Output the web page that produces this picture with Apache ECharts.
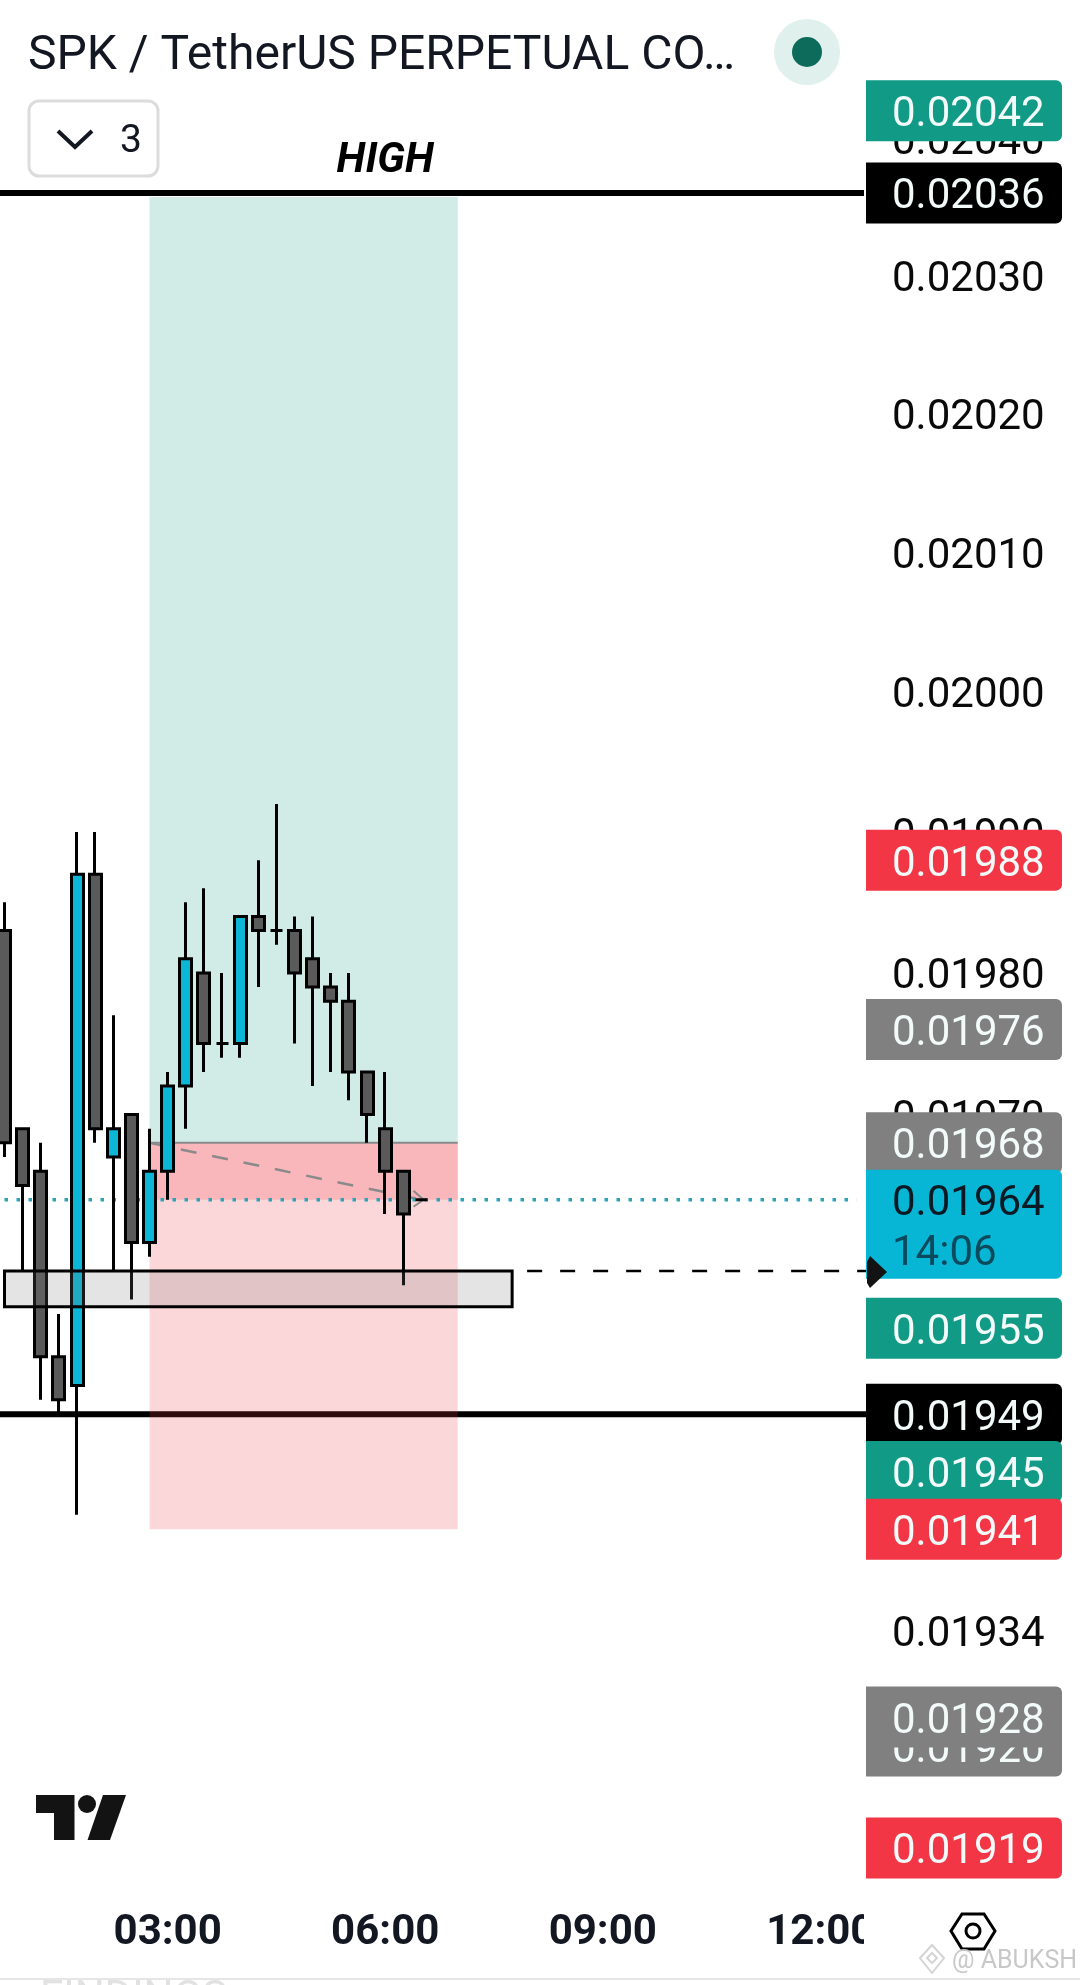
<!DOCTYPE html>
<html><head><meta charset="utf-8">
<style>html,body{margin:0;padding:0;background:#fff}#c{width:1080px;height:1985px}</style>
<script src="https://cdn.jsdelivr.net/npm/echarts@6/dist/echarts.min.js"></script>
</head><body><div id="c"></div>
<script>
// 15-minute slots starting 00:45
const times = ["00:45","01:00","01:15","01:30","01:45","02:00","02:15","02:30","02:45","03:00","03:15","03:30","03:45","04:00","04:15","04:30","04:45","05:00","05:15","05:30","05:45","06:00","06:15","06:30","06:45","07:00","07:15","07:30","07:45","08:00","08:15","08:30","08:45","09:00","09:15","09:30","09:45","10:00","10:15","10:30","10:45","11:00","11:15","11:30","11:45","12:00","12:15","12:30","12:45","13:00","13:15","13:30","13:45","14:00","14:15","14:30","14:45","15:00"];
const timeLabels = ["03:00","06:00","09:00","12:00"];
// [open, close, low, high]
const candles = [
[0.01983,0.01968,0.01967,0.01985],
[0.01969,0.01965,0.01959,0.01969],
[0.01966,0.01953,0.01950,0.01968],
[0.01953,0.01950,0.01949,0.01956],
[0.01951,0.01987,0.01942,0.01990],
[0.01987,0.01969,0.01968,0.01990],
[0.01967,0.01969,0.01959,0.01977],
[0.01970,0.01961,0.01957,0.01970],
[0.01961,0.01966,0.01960,0.01969],
[0.01966,0.01972,0.01964,0.01973],
[0.01972,0.01981,0.01969,0.01985],
[0.01980,0.01975,0.01973,0.01986],
[0.01975,0.01975,0.01974,0.01980],
[0.01975,0.01984,0.01974,0.01984],
[0.01984,0.01983,0.01979,0.01988],
[0.01983,0.01983,0.01982,0.01992],
[0.01983,0.01980,0.01975,0.01984],
[0.01981,0.01979,0.01972,0.01984],
[0.01979,0.01978,0.01973,0.01980],
[0.01978,0.01973,0.01971,0.01980],
[0.01973,0.01970,0.01968,0.01973],
[0.01969,0.01966,0.01963,0.01973],
[0.01966,0.01963,0.01958,0.01966],
[0.01964,0.01964,0.01964,0.01964]
];
const tickPrices = [0.02040,0.02030,0.02020,0.02010,0.02000,0.01990,0.01980,0.01970,0.01934];
const tagPrices = [0.02042,0.02036,0.01988,0.01976,0.01968,0.01955,0.01949,0.01945,0.01941,0.01926,0.01928,0.01919];
const tagTexts  = ["0.02042","0.02036","0.01988","0.01976","0.01968","0.01955","0.01949","0.01945","0.01941","0.01920","0.01928","0.01919"];
const tagColors = ["#119a85","#000000","#f23645","#808080","#808080","#119a85","#000000","#119a85","#f23645","#808080","#808080","#f23645"];
const highLine = 0.02036, lowLine = 0.01949, lastPrice = 0.01964;
const entry = 0.01968, target = 0.02036, stop = 0.01941;
const boxTop = 0.01959, boxBottom = 0.019565;

const UP='#0bb6d6', DOWN='#5a5a5a';
const FONT='Roboto, sans-serif';
const Y_MIN=0.019168, Y_MAX=0.020501;
const ZONE_L=7.87, ZONE_R=25.05, BOX_L=-0.04, BOX_R=28, TAG_LEFT=867, TAG_W=196, TEXT_X=892, DY=5;

function pt(api,i,p){return api.coord([i,p]);}
function rectShape(api,i0,p0,i1,p1){const a=pt(api,i0,p0),b=pt(api,i1,p1);return {x:a[0],y:a[1],width:b[0]-a[0],height:b[1]-a[1]};}

const chart = echarts.init(document.getElementById('c'),null,{renderer:'canvas'});
chart.setOption({
  animation:false,
  backgroundColor:'#fff',
  title:{text:'SPK / TetherUS PERPETUAL CO…',left:23,top:28,textStyle:{fontFamily:FONT,fontSize:48,fontWeight:400,color:'#131722'}},
  grid:{left:4.5,top:0,width:1033.4,height:1880,containLabel:false},
  xAxis:{type:'category',data:times,boundaryGap:false,axisLine:{show:false},axisTick:{show:false},splitLine:{show:false},
    axisLabel:{interval:function(i,v){return timeLabels.indexOf(v)>=0;},hideOverlap:false,margin:32,fontFamily:FONT,fontSize:42,fontWeight:700,color:'#131722'}},
  yAxis:{type:'log',logBase:10,min:Y_MIN,max:Y_MAX,position:'right',axisLine:{show:false},axisTick:{show:false},axisLabel:{show:false},splitLine:{show:false}},
  series:[
   {type:'custom',name:'levels',z:1,silent:true,data:[[0,highLine,864],[0,lowLine,866]],renderItem:function(p,api){
      const c=api.coord([0,api.value(1)]);
      return {type:'line',shape:{x1:0,y1:c[1],x2:api.value(2),y2:c[1]},style:{stroke:'#000',lineWidth:6}};
   }},
   {type:'custom',name:'zones',z:2,silent:true,data:[[0,entry]],renderItem:function(p,api){
      const e=pt(api,22.5,lastPrice);
      const ch=[
        {type:'rect',shape:rectShape(api,ZONE_L,target-0.000003,ZONE_R,entry),style:{fill:'rgba(8,153,129,0.19)'}},
        {type:'rect',shape:rectShape(api,ZONE_L,entry,ZONE_R,stop),style:{fill:'rgba(242,54,69,0.2)'}},
        {type:'rect',shape:rectShape(api,ZONE_L,entry,ZONE_R,lastPrice),style:{fill:'rgba(242,54,69,0.2)'}},
        {type:'line',shape:(function(){const a=pt(api,ZONE_L,entry),b=pt(api,ZONE_R,entry);return {x1:a[0],y1:a[1],x2:b[0],y2:b[1]};})(),style:{stroke:'#8a8a8a',lineWidth:2}},
        {type:'line',shape:(function(){const a=pt(api,ZONE_L,entry),b=pt(api,22.5,lastPrice);return {x1:a[0],y1:a[1],x2:b[0],y2:b[1]};})(),style:{stroke:'#8a8a8a',lineWidth:2.5,lineDash:[16,16]}},
        {type:'polyline',shape:{points:[[e[0]-8,e[1]-9],[e[0]+2,e[1]],[e[0]-8,e[1]+7]]},style:{stroke:'#8a8a8a',lineWidth:2,fill:'none'}},
        {type:'line',shape:(function(){const a=pt(api,-0.25,lastPrice),b=pt(api,47.25,lastPrice);return {x1:a[0],y1:a[1],x2:b[0],y2:b[1]};})(),style:{stroke:'#2fa3b6',lineWidth:3.5,lineDash:[3.5,8.5]}}
      ];
      return {type:'group',children:ch};
   }},
   {type:'candlestick',name:'SPK',z:3,data:candles,barWidth:12.5,clip:false,
    itemStyle:{color:UP,color0:DOWN,borderColor:'#000',borderColor0:'#000',borderColorDoji:'#000',borderWidth:3}},
   {type:'custom',name:'box',z:4,silent:true,data:[[0,boxTop]],renderItem:function(p,api){
      const a=pt(api,BOX_R,boxTop), h=pt(api,21.25,0.020386);
      return {type:'group',children:[
        {type:'rect',shape:rectShape(api,BOX_L,boxTop,BOX_R,boxBottom),style:{fill:'rgba(120,120,120,0.2)',stroke:'#000',lineWidth:3}},
        {type:'line',shape:{x1:a[0]+15,y1:a[1],x2:TAG_LEFT,y2:a[1]},style:{stroke:'#000',lineWidth:2.5,lineDash:[15,18]}},
        {type:'text',style:{text:'HIGH',x:h[0],y:h[1]+4,fill:'#000',font:'italic 700 42px '+FONT,align:'center',verticalAlign:'middle'}}
      ]};
   }},
   {type:'custom',name:'ticks',z:5,silent:true,data:tickPrices.map(v=>[47,v]),renderItem:function(p,api){
      const c=api.coord([47,api.value(1)]);
      return {type:'text',style:{text:api.value(1).toFixed(5),x:TEXT_X,y:c[1]+DY,fill:'#0a0a0a',font:'400 42px '+FONT,align:'left',verticalAlign:'middle'}};
   }},
   {type:'custom',name:'tags',z:6,silent:true,data:tagPrices.map((v,i)=>[47,v,i]),renderItem:function(p,api){
      const i=api.value(2), c=api.coord([47,api.value(1)]);
      return {type:'group',children:[
        {type:'rect',shape:{x:TAG_LEFT-1,y:c[1]-30.5,width:TAG_W,height:61,r:[0,6,6,0]},style:{fill:tagColors[i]}},
        {type:'text',style:{text:tagTexts[i],x:TEXT_X,y:c[1]+DY,fill:'#f2fbfa',font:'400 42px '+FONT,align:'left',verticalAlign:'middle'}}
      ]};
   }},
   {type:'custom',name:'last',z:7,silent:true,data:[[47,lastPrice]],renderItem:function(p,api){
      const c=api.coord([47,lastPrice]);
      return {type:'group',children:[
        {type:'rect',shape:{x:TAG_LEFT-1,y:c[1]-30,width:TAG_W,height:109,r:[0,6,6,0]},style:{fill:'#06b6d4'}},
        {type:'text',style:{text:lastPrice.toFixed(5),x:TEXT_X,y:c[1]+DY,fill:'#0a1a24',font:'400 42px '+FONT,align:'left',verticalAlign:'middle'}},
        {type:'text',style:{text:'14:06',x:TEXT_X,y:c[1]+DY+50,fill:'#0b4a5c',font:'400 42px '+FONT,align:'left',verticalAlign:'middle'}}
      ]};
   }}
  ],
  graphic:[
   {type:'rect',z:100,shape:{x:864,y:1890,width:216,height:85},style:{fill:'#fff'}},
   {type:'circle',z:100,shape:{cx:807,cy:52,r:33},style:{fill:'#dff0ed'}},
   {type:'circle',z:101,shape:{cx:807,cy:52,r:15},style:{fill:'#0d6b5b'}},
   {type:'rect',z:100,shape:{x:29,y:101,width:129,height:75,r:10},style:{fill:'#fff',stroke:'#dcdcdc',lineWidth:3}},
   {type:'polyline',z:101,shape:{points:[[58,131],[75,147],[92,131]]},style:{stroke:'#131722',lineWidth:4,fill:'none'}},
   {type:'text',z:101,style:{text:'3',x:131,y:142,fill:'#131722',font:'400 39px '+FONT,align:'center',verticalAlign:'middle'}},
   {type:'polygon',z:101,shape:{points:[[867,1262],[867,1283],[870,1288],[887,1272],[870,1256]]},style:{fill:'#131313'}},
   {type:'polygon',z:100,shape:{points:[[36,1795],[74.5,1795],[74.5,1840],[54,1840],[54,1813],[36,1813]]},style:{fill:'#131313'}},
   {type:'circle',z:100,shape:{cx:87,cy:1804,r:9},style:{fill:'#131313'}},
   {type:'polygon',z:100,shape:{points:[[103,1795],[126,1795],[110,1840],[87.5,1840]]},style:{fill:'#131313'}},
   {type:'polygon',z:101,shape:{points:[[962,1914],[984,1914],[995,1931],[984,1949],[962,1949],[951,1931]]},style:{fill:'#fff',stroke:'#000',lineWidth:3}},
   {type:'circle',z:102,shape:{cx:973,cy:1931,r:7},style:{fill:'#fff',stroke:'#000',lineWidth:3}},
   {type:'polygon',z:103,shape:{points:[[932,1945],[944,1958],[932,1973],[920,1958]]},style:{fill:'#fff',stroke:'#d4d4d4',lineWidth:2}},
   {type:'polygon',z:104,shape:{points:[[932,1953],[937,1958],[932,1963],[927,1958]]},style:{fill:'none',stroke:'#d4d4d4',lineWidth:2}},
   {type:'text',z:103,style:{text:'@ ABUKSH',x:952,y:1962,fill:'#c8c8c8',font:'400 25px '+FONT,align:'left',verticalAlign:'middle'}},
   {type:'rect',z:100,shape:{x:0,y:1978,width:1080,height:2},style:{fill:'#e6e6e6'}},
   {type:'text',z:101,style:{text:'FINDINGS:',x:40,y:1999,fill:'#e2e2e2',font:'400 42px '+FONT,align:'left',verticalAlign:'middle'}}
  ]
});
</script></body></html>
